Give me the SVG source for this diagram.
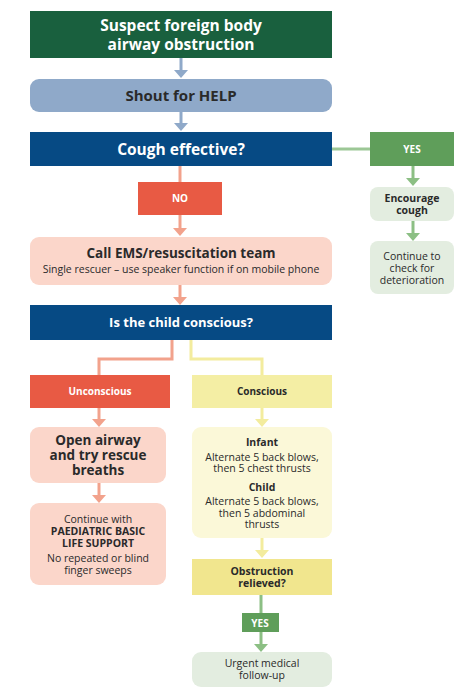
<svg xmlns="http://www.w3.org/2000/svg" width="474" height="696" viewBox="0 0 474 696">
<defs>
<style>
text{font-family:"Open Sans","Noto Sans","Liberation Sans",sans-serif;text-anchor:middle}
.b{font-weight:bold}
.w{fill:#ffffff}
.d{fill:#2a2a2a}
.ln{fill:none;stroke-width:3}
</style>
</defs>
<rect width="474" height="696" fill="#ffffff"/>
<g id="connectors">
  <line x1="181" y1="58" x2="181" y2="71" stroke="#8fa9c9" class="ln"/>
  <polygon points="174,70 188,70 181,78" fill="#8fa9c9"/>
  <line x1="181" y1="112" x2="181" y2="124" stroke="#8fa9c9" class="ln"/>
  <polygon points="174,123 188,123 181,131" fill="#8fa9c9"/>
  <line x1="332" y1="149" x2="370" y2="149" stroke="#9cc796" class="ln"/>
  <line x1="413" y1="166" x2="413" y2="179" stroke="#8cbf84" class="ln"/>
  <polygon points="406,178 420,178 413,186" fill="#8cbf84"/>
  <line x1="413" y1="221" x2="413" y2="234" stroke="#8cbf84" class="ln"/>
  <polygon points="406,233 420,233 413,241" fill="#8cbf84"/>
  <line x1="180" y1="166" x2="180" y2="182" stroke="#f2a28c" class="ln"/>
  <line x1="180" y1="215" x2="180" y2="229" stroke="#f2a28c" class="ln"/>
  <polygon points="173,228 187,228 180,236" fill="#f2a28c"/>
  <line x1="180" y1="285" x2="180" y2="298" stroke="#f2a28c" class="ln"/>
  <polygon points="173,297 187,297 180,305" fill="#f2a28c"/>
  <polyline points="172,340 172,359 99,359 99,375" stroke="#f2a28c" class="ln"/>
  <polyline points="191,340 191,359 262,359 262,375" stroke="#f3ec9e" class="ln"/>
  <line x1="99" y1="408" x2="99" y2="420" stroke="#f2a28c" class="ln"/>
  <polygon points="92,419 106,419 99,427" fill="#f2a28c"/>
  <line x1="262" y1="408" x2="262" y2="420" stroke="#f3ec9e" class="ln"/>
  <polygon points="255,419 269,419 262,427" fill="#f3ec9e"/>
  <line x1="99" y1="483" x2="99" y2="496" stroke="#f2a28c" class="ln"/>
  <polygon points="92,495 106,495 99,503" fill="#f2a28c"/>
  <line x1="262" y1="538" x2="262" y2="551" stroke="#f3ec9e" class="ln"/>
  <polygon points="255,550 269,550 262,558" fill="#f3ec9e"/>
  <line x1="261" y1="595" x2="261" y2="613" stroke="#8cbf84" class="ln"/>
  <line x1="261" y1="632" x2="261" y2="645" stroke="#8cbf84" class="ln"/>
  <polygon points="254,644 268,644 261,652" fill="#8cbf84"/>
</g>
<g id="n-suspect">
  <rect x="30" y="11" width="302" height="47" fill="#19603e"/>
  <text x="181" y="31" class="b w" font-size="15.5">Suspect foreign body</text>
  <text x="181" y="50" class="b w" font-size="15.5">airway obstruction</text>
</g>
<g id="n-shout">
  <rect x="30" y="79" width="302" height="33" rx="9" fill="#8fa9c9"/>
  <text x="181" y="101" class="b d" font-size="15">Shout for HELP</text>
</g>
<g id="n-cough">
  <rect x="30" y="132" width="302" height="34" fill="#064a84"/>
  <text x="181" y="155" class="b w" font-size="15.5">Cough effective?</text>
</g>
<g id="n-yes1">
  <rect x="370" y="132" width="84" height="34" fill="#5f9e5a"/>
  <text x="412" y="153" class="b w" font-size="10">YES</text>
</g>
<g id="n-encourage">
  <rect x="370" y="187" width="84" height="34" rx="8" fill="#e3ede0"/>
  <text x="412" y="202" class="b d" font-size="10.5">Encourage</text>
  <text x="412" y="214" class="b d" font-size="10.5">cough</text>
</g>
<g id="n-continue-check">
  <rect x="370" y="241" width="84" height="53" rx="8" fill="#e3ede0"/>
  <text x="412" y="260" class="d" font-size="10.5">Continue to</text>
  <text x="412" y="272" class="d" font-size="10.5">check for</text>
  <text x="412" y="284" class="d" font-size="10.5">deterioration</text>
</g>
<g id="n-no">
  <rect x="138" y="182" width="84" height="33" fill="#e85a44"/>
  <text x="180" y="202" class="b w" font-size="10">NO</text>
</g>
<g id="n-call">
  <rect x="30" y="237" width="302" height="48" rx="9" fill="#fbd6ca"/>
  <text x="181" y="258" class="b d" font-size="13.5">Call EMS/resuscitation team</text>
  <text x="181" y="273" class="d" font-size="10.5">Single rescuer – use speaker function if on mobile phone</text>
</g>
<g id="n-conscious-q">
  <rect x="30" y="305" width="302" height="35" fill="#064a84"/>
  <text x="181" y="327" class="b w" font-size="13">Is the child conscious?</text>
</g>
<g id="n-unconscious">
  <rect x="30" y="375" width="140" height="33" fill="#e85a44"/>
  <text x="100" y="395" class="b w" font-size="10">Unconscious</text>
</g>
<g id="n-conscious">
  <rect x="192" y="375" width="140" height="33" fill="#f4eea4"/>
  <text x="262" y="395" class="b d" font-size="10">Conscious</text>
</g>
<g id="n-open-airway">
  <rect x="30" y="427" width="136" height="56" rx="9" fill="#fbd6ca"/>
  <text x="98" y="445" class="b d" font-size="13.5">Open airway</text>
  <text x="98" y="460" class="b d" font-size="13.5">and try rescue</text>
  <text x="98" y="475" class="b d" font-size="13.5">breaths</text>
</g>
<g id="n-pbls">
  <rect x="30" y="503" width="136" height="82" rx="9" fill="#fbd6ca"/>
  <text x="98" y="523" class="d" font-size="10.5">Continue with</text>
  <text x="98" y="535" class="b d" font-size="10.5">PAEDIATRIC BASIC</text>
  <text x="98" y="547" class="b d" font-size="10.5">LIFE SUPPORT</text>
  <text x="98" y="562" class="d" font-size="10.5">No repeated or blind</text>
  <text x="98" y="574" class="d" font-size="10.5">finger sweeps</text>
</g>
<g id="n-back-blows">
  <rect x="192" y="427" width="140" height="111" rx="9" fill="#fbf8d8"/>
  <text x="262" y="446" class="b d" font-size="10.5">Infant</text>
  <text x="262" y="461" class="d" font-size="10.5">Alternate 5 back blows,</text>
  <text x="262" y="472" class="d" font-size="10.5">then 5 chest thrusts</text>
  <text x="262" y="491" class="b d" font-size="10.5">Child</text>
  <text x="262" y="505" class="d" font-size="10.5">Alternate 5 back blows,</text>
  <text x="262" y="517" class="d" font-size="10.5">then 5 abdominal</text>
  <text x="262" y="528" class="d" font-size="10.5">thrusts</text>
</g>
<g id="n-obstruction">
  <rect x="192" y="559" width="140" height="36" fill="#f1e68e"/>
  <text x="262" y="575" class="b d" font-size="10.5">Obstruction</text>
  <text x="262" y="587" class="b d" font-size="10.5">relieved?</text>
</g>
<g id="n-yes2">
  <rect x="242" y="613" width="37" height="19" fill="#5f9e5a"/>
  <text x="260" y="627" class="b w" font-size="10">YES</text>
</g>
<g id="n-urgent">
  <rect x="192" y="652" width="140" height="35" rx="9" fill="#e3ede0"/>
  <text x="262" y="667" class="d" font-size="10.5">Urgent medical</text>
  <text x="262" y="679" class="d" font-size="10.5">follow-up</text>
</g>
</svg>
